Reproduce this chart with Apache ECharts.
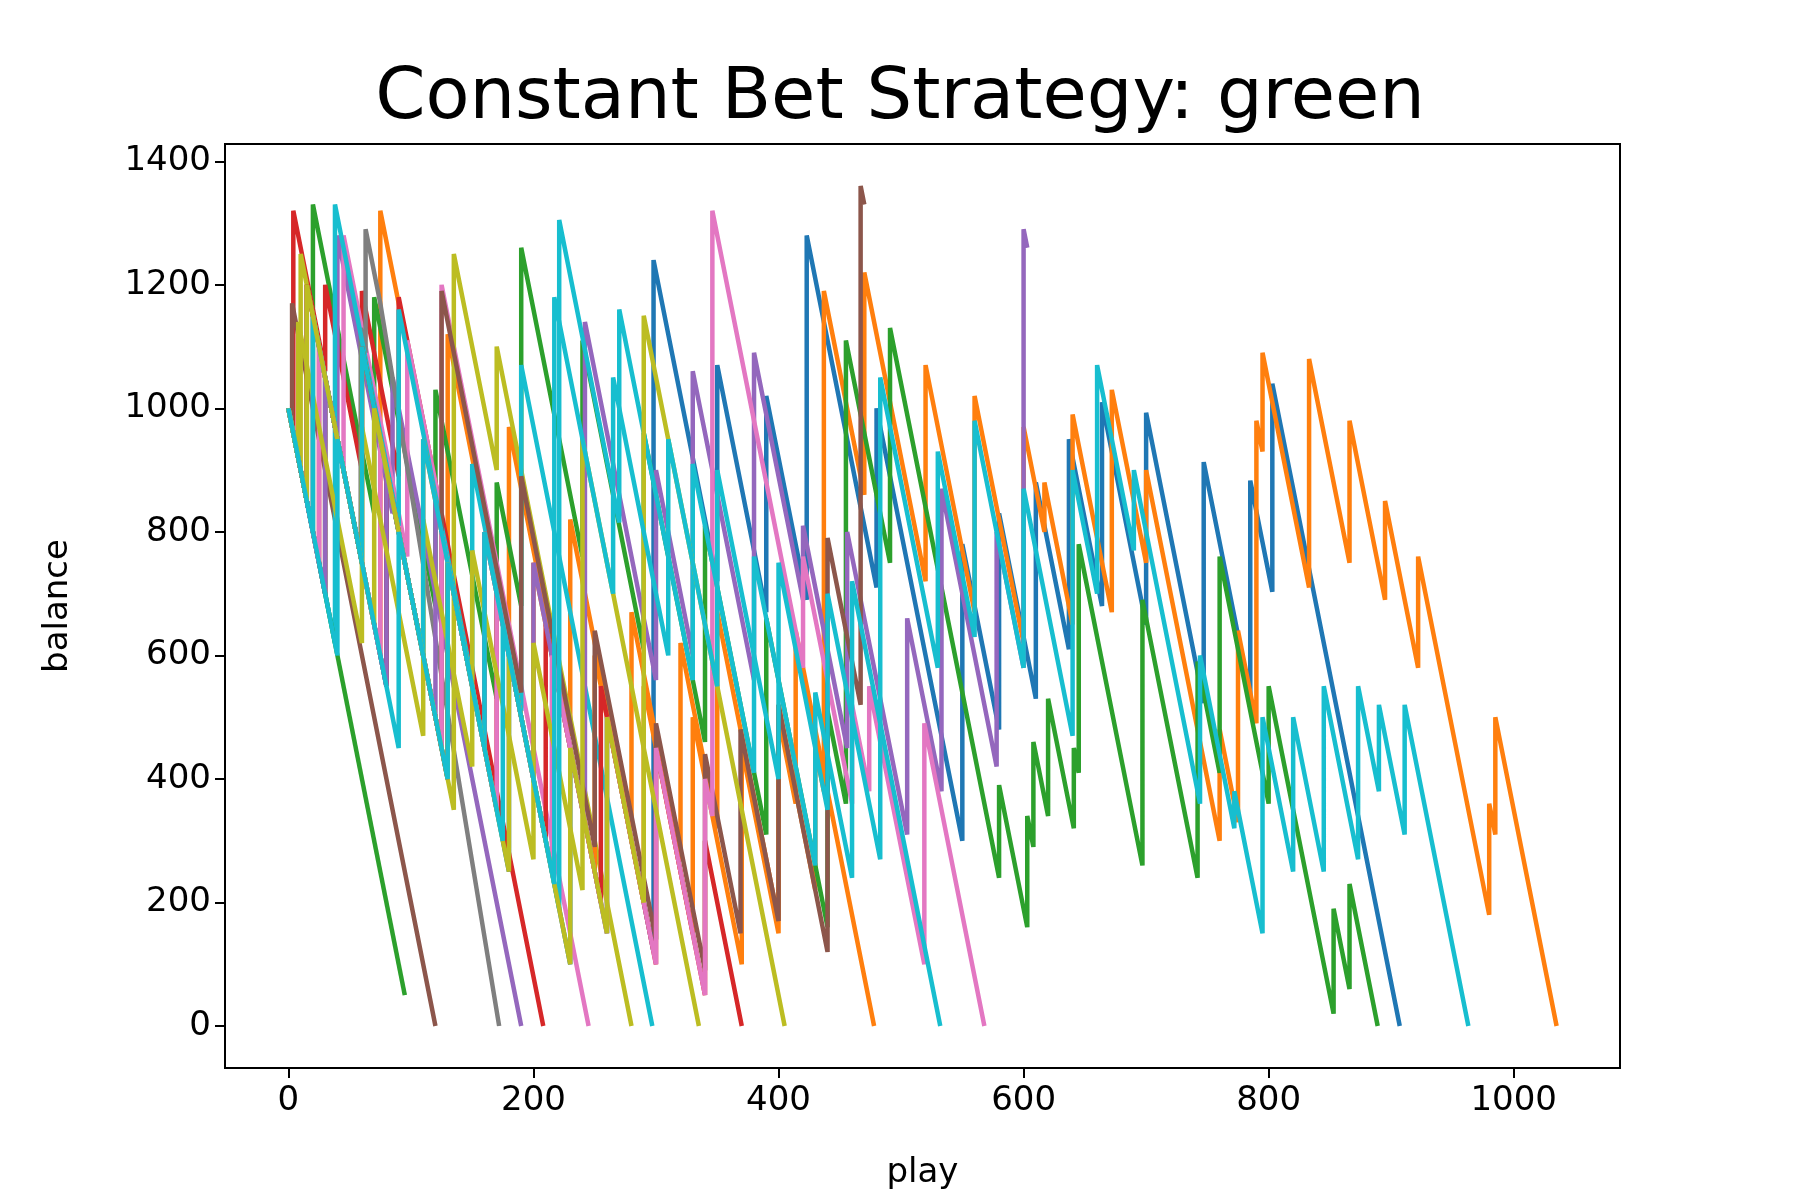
<!DOCTYPE html>
<html>
<head>
<meta charset="utf-8">
<script src="https://cdn.jsdelivr.net/npm/echarts@6/dist/echarts.min.js"></script>
<style>html,body{margin:0;padding:0;background:#fff}#main{width:1800px;height:1200px}</style>
</head>
<body>
<div id="main"></div>
<script>
// tick labels
var xTicks = [0, 200, 400, 600, 800, 1000];
var yTicks = [0, 200, 400, 600, 800, 1000, 1200, 1400];

var greenNoWin = [[0,1000],[95,50]];
var brownShort = [[0,1000],[3,970],[3,1170],[40,800],[120,0]];
var grayShort = [[0,1000],[30,700],[30,1050],[59,760],[59,1130],[63,1090],[63,1290],[75,1170],[172,0]];
var purpleShort = [[0,1000],[15,850],[15,1200],[40,950],[40,1280],[85,830],[85,1050],[190,0]];
var redShort = [[0,1000],[4,960],[4,1320],[30,1060],[30,1200],[60,900],[60,1190],[90,890],[90,1180],[208,0]];
var pinkShort = [[0,1000],[20,800],[20,1150],[45,900],[45,1280],[97,760],[97,1110],[125,830],[125,1200],[245,0]];
var oliveShort = [[0,1000],[10,900],[10,1250],[60,750],[60,1100],[135,350],[135,1250],[170,900],[170,1100],[280,0]];
var cyanShort = [[0,1000],[38,620],[38,1330],[90,810],[90,1160],[150,560],[150,910],[190,510],[190,1070],[297,0]];
var oliveMid = [[0,1000],[8,920],[8,1140],[60,620],[60,970],[110,470],[110,820],[150,420],[150,770],[200,270],[200,620],[240,220],[240,950],[335,0]];
var redMid = [[0,1000],[25,750],[25,1100],[80,550],[80,900],[130,400],[130,750],[170,350],[170,700],[210,300],[210,650],[255,200],[255,550],[300,100],[300,450],[340,50],[340,300],[370,0]];
var oliveMid2 = [[0,1000],[15,850],[15,1200],[70,650],[70,1000],[130,400],[130,750],[180,250],[180,600],[230,100],[230,450],[260,150],[260,500],[290,200],[290,1150],[405,0]];
var brownMid = [[0,1000],[15,850],[15,1200],[60,750],[60,1100],[125,450],[125,1190],[190,540],[190,890],[250,290],[250,640],[300,140],[300,490],[340,90],[340,440],[369,150],[369,480],[400,170],[400,520],[440,120],[440,790],[467,520],[467,1360],[470,1330]];
var orangeMid = [[0,1000],[15,850],[15,1200],[60,750],[60,1100],[110,600],[110,950],[160,450],[160,800],[200,400],[200,750],[250,250],[250,600],[290,200],[290,550],[330,150],[330,500],[370,100],[370,450],[400,150],[400,500],[414,360],[414,640],[478,0]];
var cyanMid = [[0,1000],[20,800],[20,1150],[60,750],[60,1100],[110,600],[110,950],[160,450],[160,800],[221,190],[221,1305],[270,815],[270,1160],[330,560],[330,910],[380,410],[380,760],[430,260],[430,540],[460,240],[460,720],[532,0]];
var pinkMid = [[0,1000],[25,750],[25,1100],[75,600],[75,950],[125,450],[125,800],[170,350],[170,700],[215,250],[215,600],[260,150],[260,500],[300,100],[300,450],[340,50],[340,400],[346,340],[346,1320],[420,580],[420,760],[460,360],[460,520],[474,380],[474,550],[519,100],[519,490],[568,0]];
var purpleMid = [[0,1000],[30,700],[30,1050],[80,550],[80,900],[120,500],[120,850],[160,450],[160,800],[200,400],[200,750],[242,330],[242,1140],[300,560],[300,900],[330,600],[330,1060],[380,560],[380,1090],[420,690],[420,810],[456,450],[456,800],[505,310],[505,660],[533,380],[533,870],[578,420],[578,800],[600,580],[600,1290],[603,1260]];
var greenLong = [[0,1000],[20,800],[20,1330],[70,830],[70,1180],[120,680],[120,1030],[170,530],[170,880],[190,680],[190,1260],[240,760],[240,1110],[290,610],[290,960],[340,460],[340,810],[390,310],[390,660],[440,160],[440,510],[455,360],[455,1110],[491,750],[491,1130],[580,240],[580,390],[603,160],[603,340],[608,290],[608,460],[620,340],[620,530],[641,320],[641,450],[645,410],[645,780],[697,260],[697,690],[742,240],[742,590],[760,410],[760,760],[800,360],[800,550],[853,20],[853,190],[866,60],[866,230],[889,0]];
var blueLong = [[0,1000],[30,700],[30,1050],[80,550],[80,900],[130,400],[130,750],[180,250],[180,600],[230,100],[230,450],[260,150],[260,500],[298,120],[298,1240],[350,720],[350,1070],[390,670],[390,1020],[423,690],[423,1280],[480,710],[480,1000],[550,300],[550,780],[580,480],[580,830],[610,530],[610,880],[637,610],[637,950],[664,680],[664,1010],[700,650],[700,993],[747,523],[747,913],[785,533],[785,883],[803,703],[803,1040],[907,0]];
var cyanLong = [[0,1000],[40,600],[40,950],[90,450],[90,800],[130,400],[130,750],[175,300],[175,650],[217,230],[217,1180],[265,700],[265,1050],[310,600],[310,950],[350,550],[350,900],[400,400],[400,750],[440,350],[440,700],[483,270],[483,1050],[530,580],[530,930],[560,630],[560,980],[600,580],[600,870],[640,470],[640,900],[660,700],[660,1070],[690,770],[690,900],[744,360],[744,600],[772,320],[772,380],[795,150],[795,500],[820,250],[820,500],[845,250],[845,550],[873,270],[873,550],[890,380],[890,520],[911,310],[911,520],[963,0]];
var orangeLong = [[0,1000],[30,700],[30,1050],[75,600],[75,1320],[130,770],[130,1120],[180,620],[180,970],[230,470],[230,820],[280,320],[280,670],[320,270],[320,620],[350,320],[350,670],[400,170],[400,520],[430,220],[430,450],[437,380],[437,1190],[470,860],[470,1220],[520,720],[520,1070],[560,670],[560,1020],[600,620],[600,970],[617,800],[617,880],[640,650],[640,990],[672,670],[672,1030],[700,750],[700,900],[760,300],[760,480],[775,330],[775,640],[790,490],[790,980],[795,930],[795,1090],[833,710],[833,1080],[866,750],[866,980],[895,690],[895,850],[922,580],[922,760],[980,180],[980,360],[985,310],[985,500],[1035,0]];

var paths = [
  ['#1f77b4', blueLong], ['#ff7f0e', orangeLong], ['#2ca02c', greenLong], ['#d62728', redShort],
  ['#9467bd', purpleShort], ['#8c564b', brownShort], ['#e377c2', pinkShort], ['#7f7f7f', grayShort],
  ['#bcbd22', oliveShort], ['#17becf', cyanShort], ['#ff7f0e', orangeMid], ['#2ca02c', greenNoWin],
  ['#d62728', redMid], ['#9467bd', purpleMid], ['#8c564b', brownMid], ['#e377c2', pinkMid],
  ['#bcbd22', oliveMid], ['#17becf', cyanMid], ['#bcbd22', oliveMid2], ['#17becf', cyanLong]
];

var plain = function (v) { return String(v); };

var chart = echarts.init(document.getElementById('main'));
var font = 'DejaVu Sans';
chart.setOption({
  animation: false,
  title: {
    text: 'Constant Bet Strategy: green', left: 'center', top: 58,
    textStyle: { fontFamily: font, fontSize: 72, fontWeight: 'normal', color: '#000' }
  },
  grid: { left: 225, right: 180, top: 144, bottom: 132, show: true, borderColor: '#000', borderWidth: 2 },
  xAxis: {
    type: 'value', min: -51.75, max: 1086.75,
    name: 'play', nameLocation: 'middle', nameGap: 88,
    nameTextStyle: { fontFamily: font, fontSize: 34, color: '#000' },
    axisLine: { show: true, onZero: false, lineStyle: { color: '#000', width: 2 } },
    axisTick: { show: true, length: 10, customValues: xTicks, lineStyle: { color: '#000', width: 2 } },
    axisLabel: { customValues: xTicks, formatter: plain, fontFamily: font, fontSize: 34, color: '#000', margin: 16 },
    splitLine: { show: false }
  },
  yAxis: {
    type: 'value', min: -68, max: 1428,
    name: 'balance', nameLocation: 'middle', nameGap: 150,
    nameTextStyle: { fontFamily: font, fontSize: 34, color: '#000' },
    axisLine: { show: true, onZero: false, lineStyle: { color: '#000', width: 2 } },
    axisTick: { show: true, length: 10, customValues: yTicks, lineStyle: { color: '#000', width: 2 } },
    axisLabel: { customValues: yTicks, formatter: plain, fontFamily: font, fontSize: 34, color: '#000', margin: 14 },
    splitLine: { show: false }
  },
  series: paths.map(function (p, i) {
    return {
      type: 'line', name: 'run' + i, data: p[1], showSymbol: false,
      lineStyle: { color: p[0], width: 4.5 }, itemStyle: { color: p[0] }
    };
  })
});
</script>
</body>
</html>
